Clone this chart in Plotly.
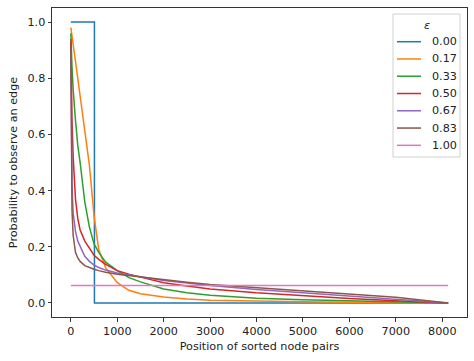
import plotly.graph_objects as go

# epsilon labels
eps_labels = ["0.00", "0.17", "0.33", "0.50", "0.67", "0.83", "1.00"]
colors = ["#1f77b4", "#ff7f0e", "#2ca02c", "#d62728", "#9467bd", "#8c564b", "#e377c2"]

# eps = 0.00 (step) and eps = 1.00 (flat)
x_eps000 = [0, 508, 508, 8127]
y_eps000 = [1.0, 1.0, 0.0, 0.0]
x_eps100 = [0, 8127]
y_eps100 = [0.0625, 0.0625]

# common sample positions for the curved series
x_pos = [0, 10, 25, 50, 75, 100, 150, 200, 300, 400, 500, 600, 750, 1000,
         1250, 1500, 2000, 2500, 3000, 4000, 5000, 6000, 7000, 8127]

y_eps017 = [0.98, 0.965, 0.95, 0.92, 0.89, 0.86, 0.80, 0.74, 0.62, 0.49, 0.31, 0.19, 0.125, 0.072,
            0.045, 0.033, 0.021, 0.014, 0.010, 0.006, 0.004, 0.0025, 0.0012, 0.0]
y_eps033 = [0.96, 0.90, 0.84, 0.76, 0.70, 0.65, 0.56, 0.50, 0.36, 0.27, 0.21, 0.18, 0.145, 0.115,
            0.090, 0.075, 0.050, 0.036, 0.027, 0.017, 0.011, 0.007, 0.0035, 0.0]
y_eps050 = [0.93, 0.80, 0.65, 0.52, 0.43, 0.37, 0.30, 0.26, 0.22, 0.195, 0.17, 0.155, 0.137, 0.115,
            0.102, 0.092, 0.072, 0.060, 0.050, 0.036, 0.025, 0.016, 0.008, 0.0]
y_eps067 = [0.90, 0.65, 0.42, 0.32, 0.28, 0.255, 0.22, 0.20, 0.166, 0.148, 0.135, 0.126, 0.117, 0.107,
            0.099, 0.093, 0.080, 0.070, 0.062, 0.048, 0.036, 0.025, 0.014, 0.0]
y_eps083 = [0.94, 0.50, 0.33, 0.24, 0.205, 0.18, 0.16, 0.148, 0.133, 0.126, 0.12, 0.115, 0.109, 0.102,
            0.097, 0.092, 0.083, 0.074, 0.066, 0.054, 0.044, 0.032, 0.020, 0.0]

x_ticks = [0, 1000, 2000, 3000, 4000, 5000, 6000, 7000, 8000]
y_ticks = [0.0, 0.2, 0.4, 0.6, 0.8, 1.0]

series = [
    (x_eps000, y_eps000),
    (x_pos, y_eps017),
    (x_pos, y_eps033),
    (x_pos, y_eps050),
    (x_pos, y_eps067),
    (x_pos, y_eps083),
    (x_eps100, y_eps100),
]

font = "DejaVu Sans"
fs = 11.2
W, H = 474, 361
ML, MR, MT, MB = 52, 7, 8, 44
PW, PH = W - ML - MR, H - MT - MB


def px2paper(px, py):
    return (px - ML) / PW, (H - MB - py) / PH


fig = go.Figure()
for (xs, ys), lab, c in zip(series, eps_labels, colors):
    fig.add_trace(go.Scatter(x=xs, y=ys, mode="lines", name=lab,
                             line=dict(color=c, width=1.5)))

# legend drawn in the upper right corner of the axes
shapes = []
annotations = []
bx0, by0 = px2paper(393, 157)
bx1, by1 = px2paper(460, 14)
shapes.append(dict(type="rect", xref="paper", yref="paper", x0=bx0, y0=by0, x1=bx1, y1=by1,
                   line=dict(color="#d0d0d0", width=1), fillcolor="rgba(255,255,255,0.8)",
                   layer="above"))
tx, ty = px2paper(427, 25)
annotations.append(dict(xref="paper", yref="paper", x=tx, y=ty, text="<i>ε</i>",
                        showarrow=False, xanchor="center", yanchor="middle",
                        font=dict(family=font, size=fs, color="#222")))
for i, (lab, c) in enumerate(zip(eps_labels, colors)):
    rowy = 41.7 + 17.27 * i
    lx0, ly = px2paper(397, rowy)
    lx1, _ = px2paper(421, rowy)
    shapes.append(dict(type="line", xref="paper", yref="paper", x0=lx0, x1=lx1, y0=ly, y1=ly,
                       line=dict(color=c, width=1.5), layer="above"))
    ax, _ = px2paper(430, rowy)
    annotations.append(dict(xref="paper", yref="paper", x=ax, y=ly, text=lab,
                            showarrow=False, xanchor="left", yanchor="middle",
                            font=dict(family=font, size=fs, color="#222")))

axis_common = dict(showgrid=False, zeroline=False, showline=True, linecolor="#333",
                   linewidth=1, mirror=True, ticks="outside", ticklen=3.5,
                   tickcolor="#333", automargin=False,
                   tickfont=dict(family=font, size=fs, color="#222"))

fig.update_layout(
    width=W, height=H,
    margin=dict(l=ML, r=MR, t=MT, b=MB),
    paper_bgcolor="white", plot_bgcolor="white",
    font=dict(family=font, size=fs, color="#222"),
    xaxis=dict(range=[-406, 8533], tickvals=x_ticks, tickformat="d",
               title=dict(text="Position of sorted node pairs", font=dict(size=fs), standoff=5),
               **axis_common),
    yaxis=dict(range=[-0.05, 1.05], tickvals=y_ticks, tickformat=".1f",
               title=dict(text="Probability to observe an edge", font=dict(size=fs), standoff=7),
               **axis_common),
    shapes=shapes,
    annotations=annotations,
    showlegend=False,
)

fig.write_html("out.html", config={"displayModeBar": False},
               post_script="document.body.style.margin='0';document.body.style.padding='0';")
